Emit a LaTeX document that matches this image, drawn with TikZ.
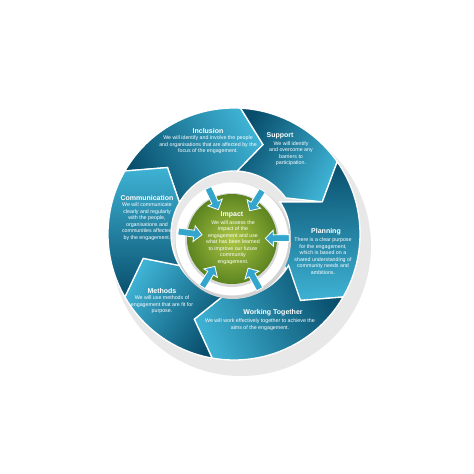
\documentclass[tikz,border=0pt]{standalone}
\usepackage{fontspec}
\setmainfont{Liberation Sans}
\usetikzlibrary{shapes.arrows,positioning}
\definecolor{segdark}{RGB}{8,78,108}
\definecolor{seglight}{RGB}{62,178,212}
\definecolor{arrowblue}{RGB}{52,166,206}
\definecolor{greenin}{RGB}{172,198,68}
\definecolor{greenout}{RGB}{92,132,32}

\begin{document}
\begin{tikzpicture}[
    x=1pt, y=1pt,
    cyclepart/.style={draw=white, line width=1.3pt, bottom color=segdark, top color=seglight},
    pics/cyclearrow/.style n args={4}{code={
        \shade[cyclepart, shading angle=#3] (#1:126pt) arc[start angle=#1, end angle=#2, radius=126pt]
            -- ({#2-15}:94pt) -- (#2:#4) arc[start angle=#2, end angle=#1, radius=#4]
            -- ({#1-15}:94pt) -- cycle;
    }},
    title/.style={text=white, font=\fontsize{7}{8}\selectfont\bfseries, inner sep=0pt},
    body/.style={text=white, font=\fontsize{5.3}{6.5}\selectfont, align=center, inner sep=0pt},
    inarrow/.style={single arrow, draw=white, fill=arrowblue, line width=0.8pt, minimum height=24pt, minimum width=16pt, single arrow head extend=3.5pt, inner sep=2.2pt}
]

% Background and shadow
\fill[white] (-237,-234) rectangle (237,240);
\useasboundingbox (-237,-234) rectangle (237,240);
\fill[gray!18] (4,-6) circle (130pt);

% Outer cycle
\begin{scope}[shift={(-3,6)}]
\pic {cyclearrow={150}{87}{-61}{63pt}};
\pic {cyclearrow={87}{35}{-119}{63pt}};
\pic {cyclearrow={35}{-30}{182}{56pt}};
\pic {cyclearrow={-30}{-100}{115}{63pt}};
\pic {cyclearrow={-100}{-150}{55}{63pt}};
\pic {cyclearrow={210}{150}{0}{63pt}};
\end{scope}

% Inner ring and centre
\begin{scope}[shift={(-5,1)}]
\fill[gray!35] (1,-2) circle (58pt);
\fill[white] (0,0) circle (56.5pt);
\fill[gray!30] (0,-1) circle (47pt);
\shade[inner color=greenin, outer color=greenout] (0,0) circle (45pt);

% Arrows into the centre
\node[inarrow, rotate=295] (arrowtl) at (115:46) {};
\node[inarrow, rotate=238] (arrowtr) at (58:47) {};
\node[inarrow, rotate=352] (arrowl) at (172:44) {};
\node[inarrow, rotate=181] (arrowr) at (1:47) {};
\node[inarrow, rotate=58] (arrowbl) at (-122:46) {};
\node[inarrow, rotate=119] (arrowbr) at (-61:47) {};
\end{scope}

% Texts
\node[title] (inclusion) at (-29,109) {Inclusion};
\node[body, below=2pt of inclusion] (inclusiontext) {We will identify and involve the people\\and organisations that are affected by the\\focus of the engagement.};

\node[title] (support) at (43,104) {Support};
\node[body, below=2pt of support, xshift=11pt] (supporttext) {We will identify\\and overcome any\\barriers to\\participation.};

\node[title] (communication) at (-90,42) {Communication};
\node[body, below=2pt of communication] (communicationtext) {We will communicate\\clearly and regularly\\with the people,\\organisations and\\communities affected\\by the engagement.};

\node[title] (planning) at (89,8) {Planning};
\node[body, below=2pt of planning, xshift=-3pt] (planningtext) {There is a clear purpose\\for the engagement,\\which is based on a\\shared understanding of\\community needs and\\ambitions.};

\node[title] (methods) at (-75,-51) {Methods};
\node[body, below=2pt of methods] (methodstext) {We will use methods of\\engagement that are fit for\\purpose.};

\node[title] (working) at (36,-73) {Working Together};
\node[body, below=2pt of working, xshift=-13pt] (workingtext) {We will work effectively together to achieve the\\aims of the engagement.};

\node[title] (impact) at (-5,25) {Impact};
\node[body, below=2pt of impact, xshift=1pt] (impacttext) {We will assess the\\impact of the\\engagement and use\\what has been learned\\to improve our future\\community\\engagement.};

\end{tikzpicture}
\end{document}
